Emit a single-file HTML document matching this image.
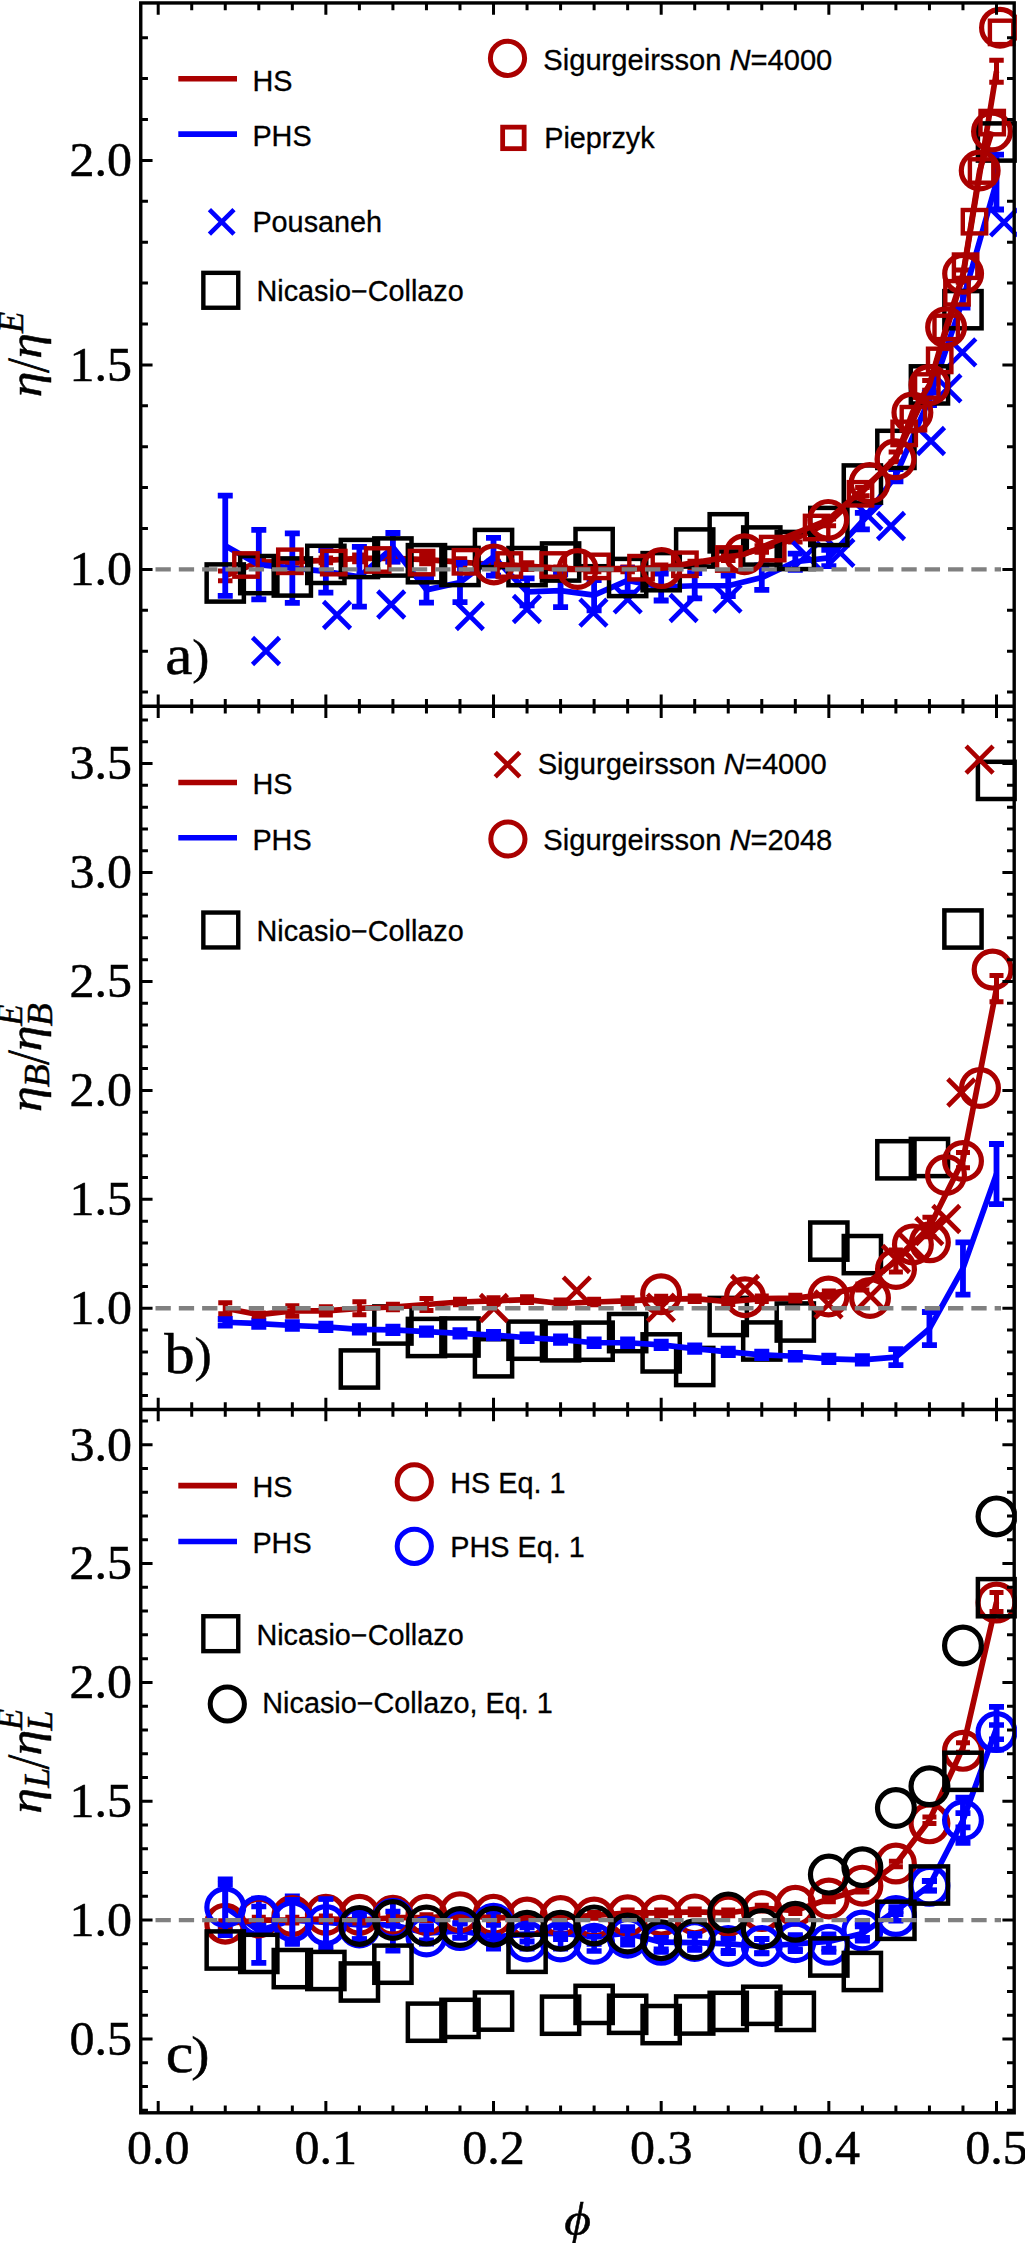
<!DOCTYPE html>
<html lang="en"><head><meta charset="utf-8"><title>Viscosity ratios vs packing fraction</title>
<style>html,body{margin:0;padding:0;background:#fff;overflow:hidden}svg{display:block}</style></head><body>
<svg width="1025" height="2243" viewBox="0 0 1025 2243">
<rect width="1025" height="2243" fill="#fff"/>
<defs>
<clipPath id="clipa"><rect x="140.75" y="2.95" width="876.15" height="703.25"/></clipPath>
<clipPath id="clipb"><rect x="140.75" y="706.2" width="876.15" height="703.3"/></clipPath>
<clipPath id="clipc"><rect x="140.75" y="1409.5" width="876.15" height="703.3"/></clipPath>
</defs>
<g clip-path="url(#clipa)">
<polyline points="225.26,575.94 258.8,562.04 292.33,561.63 325.86,560.4 359.39,558.36 392.92,558.36 426.46,559.58 459.99,562.04 493.52,564.49 527.05,566.13 560.58,569.4 594.12,569.4 627.65,569.4 661.18,567.36 694.71,564.49 728.24,557.13 761.78,548.95 795.31,538.73 828.84,522.37 862.37,491.69 895.9,456.93 929.44,385.35 962.97,276.15 996.5,71.24" fill="none" stroke="#aa0000" stroke-width="5.7" stroke-linejoin="round"/>
<path d="M225.26 571.04L225.26 580.85M218.01 571.04L232.51 571.04M218.01 580.85L232.51 580.85" fill="none" stroke="#aa0000" stroke-width="5"/>
<path d="M258.8 560.4L258.8 563.67M251.55 560.4L266.05 560.4M251.55 563.67L266.05 563.67" fill="none" stroke="#aa0000" stroke-width="5"/>
<path d="M292.33 559.99L292.33 563.26M285.08 559.99L299.58 559.99M285.08 563.26L299.58 563.26" fill="none" stroke="#aa0000" stroke-width="5"/>
<path d="M325.86 557.95L325.86 562.86M318.61 557.95L333.11 557.95M318.61 562.86L333.11 562.86" fill="none" stroke="#aa0000" stroke-width="5"/>
<path d="M359.39 555.08L359.39 561.63M352.14 555.08L366.64 555.08M352.14 561.63L366.64 561.63" fill="none" stroke="#aa0000" stroke-width="5"/>
<path d="M392.92 555.08L392.92 561.63M385.67 555.08L400.17 555.08M385.67 561.63L400.17 561.63" fill="none" stroke="#aa0000" stroke-width="5"/>
<path d="M426.46 555.49L426.46 563.67M419.21 555.49L433.71 555.49M419.21 563.67L433.71 563.67" fill="none" stroke="#aa0000" stroke-width="5"/>
<path d="M459.99 558.77L459.99 565.31M452.74 558.77L467.24 558.77M452.74 565.31L467.24 565.31" fill="none" stroke="#aa0000" stroke-width="5"/>
<path d="M493.52 561.22L493.52 567.76M486.27 561.22L500.77 561.22M486.27 567.76L500.77 567.76" fill="none" stroke="#aa0000" stroke-width="5"/>
<path d="M527.05 562.86L527.05 569.4M519.8 562.86L534.3 562.86M519.8 569.4L534.3 569.4" fill="none" stroke="#aa0000" stroke-width="5"/>
<path d="M560.58 566.95L560.58 571.85M553.33 566.95L567.83 566.95M553.33 571.85L567.83 571.85" fill="none" stroke="#aa0000" stroke-width="5"/>
<path d="M594.12 566.95L594.12 571.85M586.87 566.95L601.37 566.95M586.87 571.85L601.37 571.85" fill="none" stroke="#aa0000" stroke-width="5"/>
<path d="M627.65 566.95L627.65 571.85M620.4 566.95L634.9 566.95M620.4 571.85L634.9 571.85" fill="none" stroke="#aa0000" stroke-width="5"/>
<path d="M661.18 564.9L661.18 569.81M653.93 564.9L668.43 564.9M653.93 569.81L668.43 569.81" fill="none" stroke="#aa0000" stroke-width="5"/>
<path d="M694.71 561.22L694.71 567.76M687.46 561.22L701.96 561.22M687.46 567.76L701.96 567.76" fill="none" stroke="#aa0000" stroke-width="5"/>
<path d="M728.24 553.86L728.24 560.4M720.99 553.86L735.49 553.86M720.99 560.4L735.49 560.4" fill="none" stroke="#aa0000" stroke-width="5"/>
<path d="M761.78 545.68L761.78 552.22M754.53 545.68L769.03 545.68M754.53 552.22L769.03 552.22" fill="none" stroke="#aa0000" stroke-width="5"/>
<path d="M795.31 535.45L795.31 542M788.06 535.45L802.56 535.45M788.06 542L802.56 542" fill="none" stroke="#aa0000" stroke-width="5"/>
<path d="M828.84 519.09L828.84 525.64M821.59 519.09L836.09 519.09M821.59 525.64L836.09 525.64" fill="none" stroke="#aa0000" stroke-width="5"/>
<path d="M862.37 487.6L862.37 495.78M855.12 487.6L869.62 487.6M855.12 495.78L869.62 495.78" fill="none" stroke="#aa0000" stroke-width="5"/>
<path d="M895.9 452.02L895.9 461.83M888.65 452.02L903.15 452.02M888.65 461.83L903.15 461.83" fill="none" stroke="#aa0000" stroke-width="5"/>
<path d="M929.44 380.44L929.44 390.26M922.19 380.44L936.69 380.44M922.19 390.26L936.69 390.26" fill="none" stroke="#aa0000" stroke-width="5"/>
<path d="M962.97 270.01L962.97 282.28M955.72 270.01L970.22 270.01M955.72 282.28L970.22 282.28" fill="none" stroke="#aa0000" stroke-width="5"/>
<path d="M996.5 60.2L996.5 82.28M989.25 60.2L1003.75 60.2M989.25 82.28L1003.75 82.28" fill="none" stroke="#aa0000" stroke-width="5"/>
<polyline points="225.26,545.68 258.8,564.7 292.33,568.17 325.86,571.44 359.39,576.76 392.92,547.31 426.46,589.85 459.99,582.49 493.52,556.72 527.05,591.89 560.58,590.67 594.12,595.17 627.65,580.44 661.18,586.99 694.71,585.76 728.24,585.76 761.78,577.58 795.31,561.79 828.84,557.95 862.37,521.14 895.9,475.33 929.44,398.85 962.97,299.46 996.5,182.08" fill="none" stroke="#0000ff" stroke-width="5.7" stroke-linejoin="round"/>
<path d="M225.26 495.58L225.26 595.78M217.76 495.58L232.76 495.58M217.76 595.78L232.76 595.78" fill="none" stroke="#0000ff" stroke-width="5.8"/>
<path d="M258.8 529.93L258.8 599.46M251.3 529.93L266.3 529.93M251.3 599.46L266.3 599.46" fill="none" stroke="#0000ff" stroke-width="5.8"/>
<path d="M292.33 533.41L292.33 602.94M284.83 533.41L299.83 533.41M284.83 602.94L299.83 602.94" fill="none" stroke="#0000ff" stroke-width="5.8"/>
<path d="M325.86 550.18L325.86 592.71M318.36 550.18L333.36 550.18M318.36 592.71L333.36 592.71" fill="none" stroke="#0000ff" stroke-width="5.8"/>
<path d="M359.39 546.9L359.39 606.62M351.89 546.9L366.89 546.9M351.89 606.62L366.89 606.62" fill="none" stroke="#0000ff" stroke-width="5.8"/>
<path d="M392.92 533L392.92 561.63M385.42 533L400.42 533M385.42 561.63L400.42 561.63" fill="none" stroke="#0000ff" stroke-width="5.8"/>
<path d="M426.46 577.17L426.46 602.53M418.96 577.17L433.96 577.17M418.96 602.53L433.96 602.53" fill="none" stroke="#0000ff" stroke-width="5.8"/>
<path d="M459.99 562.86L459.99 602.12M452.49 562.86L467.49 562.86M452.49 602.12L467.49 602.12" fill="none" stroke="#0000ff" stroke-width="5.8"/>
<path d="M493.52 537.91L493.52 575.53M486.02 537.91L501.02 537.91M486.02 575.53L501.02 575.53" fill="none" stroke="#0000ff" stroke-width="5.8"/>
<path d="M527.05 578.4L527.05 605.39M519.55 578.4L534.55 578.4M519.55 605.39L534.55 605.39" fill="none" stroke="#0000ff" stroke-width="5.8"/>
<path d="M560.58 574.31L560.58 607.03M553.08 574.31L568.08 574.31M553.08 607.03L568.08 607.03" fill="none" stroke="#0000ff" stroke-width="5.8"/>
<path d="M594.12 580.03L594.12 610.3M586.62 580.03L601.62 580.03M586.62 610.3L601.62 610.3" fill="none" stroke="#0000ff" stroke-width="5.8"/>
<path d="M627.65 568.17L627.65 592.71M620.15 568.17L635.15 568.17M620.15 592.71L635.15 592.71" fill="none" stroke="#0000ff" stroke-width="5.8"/>
<path d="M661.18 573.49L661.18 600.48M653.68 573.49L668.68 573.49M653.68 600.48L668.68 600.48" fill="none" stroke="#0000ff" stroke-width="5.8"/>
<path d="M694.71 573.08L694.71 598.44M687.21 573.08L702.21 573.08M687.21 598.44L702.21 598.44" fill="none" stroke="#0000ff" stroke-width="5.8"/>
<path d="M728.24 575.53L728.24 595.99M720.74 575.53L735.74 575.53M720.74 595.99L735.74 595.99" fill="none" stroke="#0000ff" stroke-width="5.8"/>
<path d="M761.78 565.31L761.78 589.85M754.28 565.31L769.28 565.31M754.28 589.85L769.28 589.85" fill="none" stroke="#0000ff" stroke-width="5.8"/>
<path d="M795.31 553.61L795.31 569.97M787.81 553.61L802.81 553.61M787.81 569.97L802.81 569.97" fill="none" stroke="#0000ff" stroke-width="5.8"/>
<path d="M828.84 549.77L828.84 566.13M821.34 549.77L836.34 549.77M821.34 566.13L836.34 566.13" fill="none" stroke="#0000ff" stroke-width="5.8"/>
<path d="M862.37 512.96L862.37 529.32M854.87 512.96L869.87 512.96M854.87 529.32L869.87 529.32" fill="none" stroke="#0000ff" stroke-width="5.8"/>
<path d="M895.9 469.19L895.9 481.46M888.4 469.19L903.4 469.19M888.4 481.46L903.4 481.46" fill="none" stroke="#0000ff" stroke-width="5.8"/>
<path d="M929.44 392.71L929.44 404.98M921.94 392.71L936.94 392.71M921.94 404.98L936.94 404.98" fill="none" stroke="#0000ff" stroke-width="5.8"/>
<path d="M962.97 291.28L962.97 307.64M955.47 291.28L970.47 291.28M955.47 307.64L970.47 307.64" fill="none" stroke="#0000ff" stroke-width="5.8"/>
<path d="M996.5 154.67L996.5 209.48M989 154.67L1004 154.67M989 209.48L1004 209.48" fill="none" stroke="#0000ff" stroke-width="5.8"/>
<path d="M252.5 637.5L279.5 664.5M252.5 664.5L279.5 637.5" fill="none" stroke="#0000ff" stroke-width="4.6"/>
<path d="M323.5 601.5L350.5 628.5M323.5 628.5L350.5 601.5" fill="none" stroke="#0000ff" stroke-width="4.6"/>
<path d="M377.7 591L404.7 618M377.7 618L404.7 591" fill="none" stroke="#0000ff" stroke-width="4.6"/>
<path d="M456.3 602.5L483.3 629.5M456.3 629.5L483.3 602.5" fill="none" stroke="#0000ff" stroke-width="4.6"/>
<path d="M513.4 595.5L540.4 622.5M513.4 622.5L540.4 595.5" fill="none" stroke="#0000ff" stroke-width="4.6"/>
<path d="M579.9 599.1L606.9 626.1M579.9 626.1L606.9 599.1" fill="none" stroke="#0000ff" stroke-width="4.6"/>
<path d="M614.2 585.9L641.2 612.9M614.2 612.9L641.2 585.9" fill="none" stroke="#0000ff" stroke-width="4.6"/>
<path d="M670.1 594.5L697.1 621.5M670.1 621.5L697.1 594.5" fill="none" stroke="#0000ff" stroke-width="4.6"/>
<path d="M714 585.1L741 612.1M714 612.1L741 585.1" fill="none" stroke="#0000ff" stroke-width="4.6"/>
<path d="M792.7 541.9L819.7 568.9M792.7 568.9L819.7 541.9" fill="none" stroke="#0000ff" stroke-width="4.6"/>
<path d="M826.9 539.4L853.9 566.4M826.9 566.4L853.9 539.4" fill="none" stroke="#0000ff" stroke-width="4.6"/>
<path d="M854.8 502.5L881.8 529.5M854.8 529.5L881.8 502.5" fill="none" stroke="#0000ff" stroke-width="4.6"/>
<path d="M877.5 512.5L904.5 539.5M877.5 539.5L904.5 512.5" fill="none" stroke="#0000ff" stroke-width="4.6"/>
<path d="M917.5 427.5L944.5 454.5M917.5 454.5L944.5 427.5" fill="none" stroke="#0000ff" stroke-width="4.6"/>
<path d="M933.9 374.9L960.9 401.9M933.9 401.9L960.9 374.9" fill="none" stroke="#0000ff" stroke-width="4.6"/>
<path d="M948.8 338.9L975.8 365.9M948.8 365.9L975.8 338.9" fill="none" stroke="#0000ff" stroke-width="4.6"/>
<path d="M990.5 208.9L1017.5 235.9M990.5 235.9L1017.5 208.9" fill="none" stroke="#0000ff" stroke-width="4.6"/>
<rect x="206.66" y="564.4" width="37.2" height="37.2" fill="none" stroke="#000000" stroke-width="4.5"/>
<rect x="240.2" y="556" width="37.2" height="37.2" fill="none" stroke="#000000" stroke-width="4.5"/>
<rect x="273.73" y="558.4" width="37.2" height="37.2" fill="none" stroke="#000000" stroke-width="4.5"/>
<rect x="307.26" y="545.8" width="37.2" height="37.2" fill="none" stroke="#000000" stroke-width="4.5"/>
<rect x="340.79" y="539.9" width="37.2" height="37.2" fill="none" stroke="#000000" stroke-width="4.5"/>
<rect x="374.32" y="538.4" width="37.2" height="37.2" fill="none" stroke="#000000" stroke-width="4.5"/>
<rect x="407.86" y="545.1" width="37.2" height="37.2" fill="none" stroke="#000000" stroke-width="4.5"/>
<rect x="441.39" y="547.9" width="37.2" height="37.2" fill="none" stroke="#000000" stroke-width="4.5"/>
<rect x="474.92" y="529.9" width="37.2" height="37.2" fill="none" stroke="#000000" stroke-width="4.5"/>
<rect x="508.45" y="548" width="37.2" height="37.2" fill="none" stroke="#000000" stroke-width="4.5"/>
<rect x="541.98" y="543.4" width="37.2" height="37.2" fill="none" stroke="#000000" stroke-width="4.5"/>
<rect x="575.52" y="529" width="37.2" height="37.2" fill="none" stroke="#000000" stroke-width="4.5"/>
<rect x="609.05" y="558.9" width="37.2" height="37.2" fill="none" stroke="#000000" stroke-width="4.5"/>
<rect x="642.58" y="553.1" width="37.2" height="37.2" fill="none" stroke="#000000" stroke-width="4.5"/>
<rect x="676.11" y="529.4" width="37.2" height="37.2" fill="none" stroke="#000000" stroke-width="4.5"/>
<rect x="709.64" y="514.2" width="37.2" height="37.2" fill="none" stroke="#000000" stroke-width="4.5"/>
<rect x="743.18" y="527.4" width="37.2" height="37.2" fill="none" stroke="#000000" stroke-width="4.5"/>
<rect x="776.71" y="531.9" width="37.2" height="37.2" fill="none" stroke="#000000" stroke-width="4.5"/>
<rect x="810.24" y="507.9" width="37.2" height="37.2" fill="none" stroke="#000000" stroke-width="4.5"/>
<rect x="843.77" y="465.4" width="37.2" height="37.2" fill="none" stroke="#000000" stroke-width="4.5"/>
<rect x="877.3" y="430.8" width="37.2" height="37.2" fill="none" stroke="#000000" stroke-width="4.5"/>
<rect x="910.84" y="366.3" width="37.2" height="37.2" fill="none" stroke="#000000" stroke-width="4.5"/>
<rect x="944.37" y="291.1" width="37.2" height="37.2" fill="none" stroke="#000000" stroke-width="4.5"/>
<rect x="977.9" y="123.4" width="37.2" height="37.2" fill="none" stroke="#000000" stroke-width="4.5"/>
<rect x="234.29" y="553.3" width="23.4" height="23.4" fill="none" stroke="#aa0000" stroke-width="4.4"/>
<rect x="278.18" y="549.6" width="23.4" height="23.4" fill="none" stroke="#aa0000" stroke-width="4.4"/>
<rect x="322.07" y="550.9" width="23.4" height="23.4" fill="none" stroke="#aa0000" stroke-width="4.4"/>
<rect x="365.97" y="548.3" width="23.4" height="23.4" fill="none" stroke="#aa0000" stroke-width="4.4"/>
<rect x="409.86" y="550.9" width="23.4" height="23.4" fill="none" stroke="#aa0000" stroke-width="4.4"/>
<rect x="453.75" y="550.1" width="23.4" height="23.4" fill="none" stroke="#aa0000" stroke-width="4.4"/>
<rect x="497.65" y="553.3" width="23.4" height="23.4" fill="none" stroke="#aa0000" stroke-width="4.4"/>
<rect x="541.54" y="553.3" width="23.4" height="23.4" fill="none" stroke="#aa0000" stroke-width="4.4"/>
<rect x="585.43" y="554.7" width="23.4" height="23.4" fill="none" stroke="#aa0000" stroke-width="4.4"/>
<rect x="629.33" y="556" width="23.4" height="23.4" fill="none" stroke="#aa0000" stroke-width="4.4"/>
<rect x="673.22" y="552.6" width="23.4" height="23.4" fill="none" stroke="#aa0000" stroke-width="4.4"/>
<rect x="717.11" y="547.3" width="23.4" height="23.4" fill="none" stroke="#aa0000" stroke-width="4.4"/>
<rect x="761.01" y="536.9" width="23.4" height="23.4" fill="none" stroke="#aa0000" stroke-width="4.4"/>
<rect x="804.9" y="515.8" width="23.4" height="23.4" fill="none" stroke="#aa0000" stroke-width="4.4"/>
<rect x="848.79" y="482.1" width="23.4" height="23.4" fill="none" stroke="#aa0000" stroke-width="4.4"/>
<rect x="892.5" y="421.7" width="23.4" height="23.4" fill="none" stroke="#aa0000" stroke-width="4.4"/>
<rect x="901.7" y="407" width="23.4" height="23.4" fill="none" stroke="#aa0000" stroke-width="4.4"/>
<rect x="915.1" y="374.3" width="23.4" height="23.4" fill="none" stroke="#aa0000" stroke-width="4.4"/>
<rect x="928" y="348.7" width="23.4" height="23.4" fill="none" stroke="#aa0000" stroke-width="4.4"/>
<rect x="934.5" y="315.7" width="23.4" height="23.4" fill="none" stroke="#aa0000" stroke-width="4.4"/>
<rect x="945.3" y="281.1" width="23.4" height="23.4" fill="none" stroke="#aa0000" stroke-width="4.4"/>
<rect x="953.9" y="254.5" width="23.4" height="23.4" fill="none" stroke="#aa0000" stroke-width="4.4"/>
<rect x="962.8" y="210" width="23.4" height="23.4" fill="none" stroke="#aa0000" stroke-width="4.4"/>
<rect x="969.9" y="159.3" width="23.4" height="23.4" fill="none" stroke="#aa0000" stroke-width="4.4"/>
<rect x="980.5" y="110.9" width="23.4" height="23.4" fill="none" stroke="#aa0000" stroke-width="4.4"/>
<rect x="989.9" y="20.7" width="23.4" height="23.4" fill="none" stroke="#aa0000" stroke-width="4.4"/>
<polyline points="493.9,564.4 577.6,569 661.6,568.1 744.5,554.2 828.2,519.9 869.6,483.1 895.5,459.3 912.4,412.6 929.4,385 946.1,327.2 963.1,273.8 979.7,170.5 992,131.5" fill="none" stroke="#aa0000" stroke-width="5.7" stroke-linejoin="round"/>
<circle cx="493.9" cy="564.4" r="18.4" fill="none" stroke="#aa0000" stroke-width="5.2"/>
<circle cx="577.6" cy="569" r="18.4" fill="none" stroke="#aa0000" stroke-width="5.2"/>
<circle cx="661.6" cy="568.1" r="18.4" fill="none" stroke="#aa0000" stroke-width="5.2"/>
<circle cx="744.5" cy="554.2" r="18.4" fill="none" stroke="#aa0000" stroke-width="5.2"/>
<circle cx="828.2" cy="519.9" r="18.4" fill="none" stroke="#aa0000" stroke-width="5.2"/>
<circle cx="869.6" cy="483.1" r="18.4" fill="none" stroke="#aa0000" stroke-width="5.2"/>
<circle cx="895.5" cy="459.3" r="18.4" fill="none" stroke="#aa0000" stroke-width="5.2"/>
<circle cx="912.4" cy="412.6" r="18.4" fill="none" stroke="#aa0000" stroke-width="5.2"/>
<circle cx="929.4" cy="385" r="18.4" fill="none" stroke="#aa0000" stroke-width="5.2"/>
<circle cx="946.1" cy="327.2" r="18.4" fill="none" stroke="#aa0000" stroke-width="5.2"/>
<circle cx="963.1" cy="273.8" r="18.4" fill="none" stroke="#aa0000" stroke-width="5.2"/>
<circle cx="979.7" cy="170.5" r="18.4" fill="none" stroke="#aa0000" stroke-width="5.2"/>
<circle cx="992" cy="131.5" r="18.4" fill="none" stroke="#aa0000" stroke-width="5.2"/>
<circle cx="1000" cy="27.7" r="18.4" fill="none" stroke="#aa0000" stroke-width="5.2"/>
</g>
<g clip-path="url(#clipb)">
<rect x="340.79" y="1350.4" width="37.2" height="37.2" fill="none" stroke="#000000" stroke-width="4.5"/>
<rect x="374.32" y="1306.4" width="37.2" height="37.2" fill="none" stroke="#000000" stroke-width="4.5"/>
<rect x="407.86" y="1318.9" width="37.2" height="37.2" fill="none" stroke="#000000" stroke-width="4.5"/>
<rect x="441.39" y="1318.4" width="37.2" height="37.2" fill="none" stroke="#000000" stroke-width="4.5"/>
<rect x="474.92" y="1339.2" width="37.2" height="37.2" fill="none" stroke="#000000" stroke-width="4.5"/>
<rect x="508.45" y="1321.6" width="37.2" height="37.2" fill="none" stroke="#000000" stroke-width="4.5"/>
<rect x="541.98" y="1323.2" width="37.2" height="37.2" fill="none" stroke="#000000" stroke-width="4.5"/>
<rect x="575.52" y="1322.6" width="37.2" height="37.2" fill="none" stroke="#000000" stroke-width="4.5"/>
<rect x="609.05" y="1314" width="37.2" height="37.2" fill="none" stroke="#000000" stroke-width="4.5"/>
<rect x="642.58" y="1334.3" width="37.2" height="37.2" fill="none" stroke="#000000" stroke-width="4.5"/>
<rect x="676.11" y="1347.9" width="37.2" height="37.2" fill="none" stroke="#000000" stroke-width="4.5"/>
<rect x="709.64" y="1297.9" width="37.2" height="37.2" fill="none" stroke="#000000" stroke-width="4.5"/>
<rect x="743.18" y="1322.4" width="37.2" height="37.2" fill="none" stroke="#000000" stroke-width="4.5"/>
<rect x="776.71" y="1303.4" width="37.2" height="37.2" fill="none" stroke="#000000" stroke-width="4.5"/>
<rect x="810.24" y="1222.5" width="37.2" height="37.2" fill="none" stroke="#000000" stroke-width="4.5"/>
<rect x="843.77" y="1236" width="37.2" height="37.2" fill="none" stroke="#000000" stroke-width="4.5"/>
<rect x="877.3" y="1141.2" width="37.2" height="37.2" fill="none" stroke="#000000" stroke-width="4.5"/>
<rect x="910.84" y="1138.9" width="37.2" height="37.2" fill="none" stroke="#000000" stroke-width="4.5"/>
<rect x="944.37" y="910.4" width="37.2" height="37.2" fill="none" stroke="#000000" stroke-width="4.5"/>
<rect x="977.9" y="761.8" width="37.2" height="37.2" fill="none" stroke="#000000" stroke-width="4.5"/>
<polyline points="225.26,1322.25 258.8,1323.55 292.33,1325.51 325.86,1326.82 359.39,1329.33 392.92,1329.87 426.46,1331.62 459.99,1333.36 493.52,1335.1 527.05,1337.72 560.58,1339.68 594.12,1342.73 627.65,1342.73 661.18,1344.91 694.71,1348.61 728.24,1351.88 761.78,1354.93 795.31,1356.24 828.84,1358.85 862.37,1359.94 895.9,1357.11 929.44,1328.56 962.97,1268.42 996.5,1174.07" fill="none" stroke="#0000ff" stroke-width="5.7" stroke-linejoin="round"/>
<path d="M225.26 1318.98L225.26 1325.51M217.76 1318.98L232.76 1318.98M217.76 1325.51L232.76 1325.51" fill="none" stroke="#0000ff" stroke-width="5.8"/>
<path d="M258.8 1320.28L258.8 1326.82M251.3 1320.28L266.3 1320.28M251.3 1326.82L266.3 1326.82" fill="none" stroke="#0000ff" stroke-width="5.8"/>
<path d="M292.33 1322.25L292.33 1328.78M284.83 1322.25L299.83 1322.25M284.83 1328.78L299.83 1328.78" fill="none" stroke="#0000ff" stroke-width="5.8"/>
<path d="M325.86 1323.55L325.86 1330.09M318.36 1323.55L333.36 1323.55M318.36 1330.09L333.36 1330.09" fill="none" stroke="#0000ff" stroke-width="5.8"/>
<path d="M359.39 1326.06L359.39 1332.6M351.89 1326.06L366.89 1326.06M351.89 1332.6L366.89 1332.6" fill="none" stroke="#0000ff" stroke-width="5.8"/>
<path d="M392.92 1326.6L392.92 1333.14M385.42 1326.6L400.42 1326.6M385.42 1333.14L400.42 1333.14" fill="none" stroke="#0000ff" stroke-width="5.8"/>
<path d="M426.46 1328.35L426.46 1334.88M418.96 1328.35L433.96 1328.35M418.96 1334.88L433.96 1334.88" fill="none" stroke="#0000ff" stroke-width="5.8"/>
<path d="M459.99 1330.09L459.99 1336.63M452.49 1330.09L467.49 1330.09M452.49 1336.63L467.49 1336.63" fill="none" stroke="#0000ff" stroke-width="5.8"/>
<path d="M493.52 1331.83L493.52 1338.37M486.02 1331.83L501.02 1331.83M486.02 1338.37L501.02 1338.37" fill="none" stroke="#0000ff" stroke-width="5.8"/>
<path d="M527.05 1334.45L527.05 1340.98M519.55 1334.45L534.55 1334.45M519.55 1340.98L534.55 1340.98" fill="none" stroke="#0000ff" stroke-width="5.8"/>
<path d="M560.58 1336.41L560.58 1342.95M553.08 1336.41L568.08 1336.41M553.08 1342.95L568.08 1342.95" fill="none" stroke="#0000ff" stroke-width="5.8"/>
<path d="M594.12 1339.46L594.12 1346M586.62 1339.46L601.62 1339.46M586.62 1346L601.62 1346" fill="none" stroke="#0000ff" stroke-width="5.8"/>
<path d="M627.65 1339.46L627.65 1346M620.15 1339.46L635.15 1339.46M620.15 1346L635.15 1346" fill="none" stroke="#0000ff" stroke-width="5.8"/>
<path d="M661.18 1341.64L661.18 1348.18M653.68 1341.64L668.68 1341.64M653.68 1348.18L668.68 1348.18" fill="none" stroke="#0000ff" stroke-width="5.8"/>
<path d="M694.71 1345.34L694.71 1351.88M687.21 1345.34L702.21 1345.34M687.21 1351.88L702.21 1351.88" fill="none" stroke="#0000ff" stroke-width="5.8"/>
<path d="M728.24 1348.61L728.24 1355.15M720.74 1348.61L735.74 1348.61M720.74 1355.15L735.74 1355.15" fill="none" stroke="#0000ff" stroke-width="5.8"/>
<path d="M761.78 1351.66L761.78 1358.2M754.28 1351.66L769.28 1351.66M754.28 1358.2L769.28 1358.2" fill="none" stroke="#0000ff" stroke-width="5.8"/>
<path d="M795.31 1352.97L795.31 1359.51M787.81 1352.97L802.81 1352.97M787.81 1359.51L802.81 1359.51" fill="none" stroke="#0000ff" stroke-width="5.8"/>
<path d="M828.84 1355.58L828.84 1362.12M821.34 1355.58L836.34 1355.58M821.34 1362.12L836.34 1362.12" fill="none" stroke="#0000ff" stroke-width="5.8"/>
<path d="M862.37 1356.24L862.37 1363.65M854.87 1356.24L869.87 1356.24M854.87 1363.65L869.87 1363.65" fill="none" stroke="#0000ff" stroke-width="5.8"/>
<path d="M895.9 1349.05L895.9 1365.17M888.4 1349.05L903.4 1349.05M888.4 1365.17L903.4 1365.17" fill="none" stroke="#0000ff" stroke-width="5.8"/>
<path d="M929.44 1312L929.44 1345.13M921.94 1312L936.94 1312M921.94 1345.13L936.94 1345.13" fill="none" stroke="#0000ff" stroke-width="5.8"/>
<path d="M962.97 1242.28L962.97 1294.57M955.47 1242.28L970.47 1242.28M955.47 1294.57L970.47 1294.57" fill="none" stroke="#0000ff" stroke-width="5.8"/>
<path d="M996.5 1144L996.5 1204.14M989 1144L1004 1144M989 1204.14L1004 1204.14" fill="none" stroke="#0000ff" stroke-width="5.8"/>
<polyline points="225.26,1308.3 258.8,1314.62 292.33,1310.91 325.86,1310.91 359.39,1308.3 392.92,1306.99 426.46,1304.49 459.99,1301.98 493.52,1300.89 527.05,1299.58 560.58,1303.51 594.12,1301.98 627.65,1300.89 661.18,1299.15 694.71,1298.71 728.24,1301.76 761.78,1298.71 795.31,1298.06 828.84,1294.14 862.37,1286.95 895.9,1261.02 929.44,1227.02 962.97,1160.13 996.5,988.64" fill="none" stroke="#aa0000" stroke-width="5.7" stroke-linejoin="round"/>
<path d="M225.26 1302.85L225.26 1313.75M218.26 1302.85L232.26 1302.85M218.26 1313.75L232.26 1313.75" fill="none" stroke="#aa0000" stroke-width="5"/>
<path d="M258.8 1312.88L258.8 1316.36M251.8 1312.88L265.8 1312.88M251.8 1316.36L265.8 1316.36" fill="none" stroke="#aa0000" stroke-width="5"/>
<path d="M292.33 1305.69L292.33 1316.14M285.33 1305.69L299.33 1305.69M285.33 1316.14L299.33 1316.14" fill="none" stroke="#aa0000" stroke-width="5"/>
<path d="M325.86 1306.86L325.86 1314.97M318.86 1306.86L332.86 1306.86M318.86 1314.97L332.86 1314.97" fill="none" stroke="#aa0000" stroke-width="5"/>
<path d="M359.39 1301.76L359.39 1314.84M352.39 1301.76L366.39 1301.76M352.39 1314.84L366.39 1314.84" fill="none" stroke="#aa0000" stroke-width="5"/>
<path d="M392.92 1304.16L392.92 1309.83M385.92 1304.16L399.92 1304.16M385.92 1309.83L399.92 1309.83" fill="none" stroke="#aa0000" stroke-width="5"/>
<path d="M426.46 1298.39L426.46 1310.59M419.46 1298.39L433.46 1298.39M419.46 1310.59L433.46 1310.59" fill="none" stroke="#aa0000" stroke-width="5"/>
<path d="M459.99 1299.15L459.99 1304.81M452.99 1299.15L466.99 1299.15M452.99 1304.81L466.99 1304.81" fill="none" stroke="#aa0000" stroke-width="5"/>
<path d="M493.52 1297.84L493.52 1303.94M486.52 1297.84L500.52 1297.84M486.52 1303.94L500.52 1303.94" fill="none" stroke="#aa0000" stroke-width="5"/>
<path d="M527.05 1296.75L527.05 1302.42M520.05 1296.75L534.05 1296.75M520.05 1302.42L534.05 1302.42" fill="none" stroke="#aa0000" stroke-width="5"/>
<path d="M560.58 1300.02L560.58 1306.99M553.58 1300.02L567.58 1300.02M553.58 1306.99L567.58 1306.99" fill="none" stroke="#aa0000" stroke-width="5"/>
<path d="M594.12 1299.15L594.12 1304.81M587.12 1299.15L601.12 1299.15M587.12 1304.81L601.12 1304.81" fill="none" stroke="#aa0000" stroke-width="5"/>
<path d="M627.65 1297.84L627.65 1303.94M620.65 1297.84L634.65 1297.84M620.65 1303.94L634.65 1303.94" fill="none" stroke="#aa0000" stroke-width="5"/>
<path d="M661.18 1296.32L661.18 1301.98M654.18 1296.32L668.18 1296.32M654.18 1301.98L668.18 1301.98" fill="none" stroke="#aa0000" stroke-width="5"/>
<path d="M694.71 1295.88L694.71 1301.55M687.71 1295.88L701.71 1295.88M687.71 1301.55L701.71 1301.55" fill="none" stroke="#aa0000" stroke-width="5"/>
<path d="M728.24 1298.93L728.24 1304.6M721.24 1298.93L735.24 1298.93M721.24 1304.6L735.24 1304.6" fill="none" stroke="#aa0000" stroke-width="5"/>
<path d="M761.78 1295.88L761.78 1301.55M754.78 1295.88L768.78 1295.88M754.78 1301.55L768.78 1301.55" fill="none" stroke="#aa0000" stroke-width="5"/>
<path d="M795.31 1295.23L795.31 1300.89M788.31 1295.23L802.31 1295.23M788.31 1300.89L802.31 1300.89" fill="none" stroke="#aa0000" stroke-width="5"/>
<path d="M828.84 1291.09L828.84 1297.19M821.84 1291.09L835.84 1291.09M821.84 1297.19L835.84 1297.19" fill="none" stroke="#aa0000" stroke-width="5"/>
<path d="M862.37 1283.9L862.37 1290M855.37 1283.9L869.37 1283.9M855.37 1290L869.37 1290" fill="none" stroke="#aa0000" stroke-width="5"/>
<path d="M895.9 1250.12L895.9 1271.91M888.9 1250.12L902.9 1250.12M888.9 1271.91L902.9 1271.91" fill="none" stroke="#aa0000" stroke-width="5"/>
<path d="M929.44 1217.22L929.44 1236.83M922.44 1217.22L936.44 1217.22M922.44 1236.83L936.44 1236.83" fill="none" stroke="#aa0000" stroke-width="5"/>
<path d="M962.97 1152.5L962.97 1167.75M955.97 1152.5L969.97 1152.5M955.97 1167.75L969.97 1167.75" fill="none" stroke="#aa0000" stroke-width="5"/>
<path d="M996.5 975.57L996.5 1001.71M989.5 975.57L1003.5 975.57M989.5 1001.71L1003.5 1001.71" fill="none" stroke="#aa0000" stroke-width="5"/>
<path d="M480.4 1294.5L507.4 1321.5M480.4 1321.5L507.4 1294.5" fill="none" stroke="#aa0000" stroke-width="4.6"/>
<path d="M563.3 1277.2L590.3 1304.2M563.3 1304.2L590.3 1277.2" fill="none" stroke="#aa0000" stroke-width="4.6"/>
<path d="M647.4 1294.1L674.4 1321.1M647.4 1321.1L674.4 1294.1" fill="none" stroke="#aa0000" stroke-width="4.6"/>
<path d="M731.5 1275.5L758.5 1302.5M731.5 1302.5L758.5 1275.5" fill="none" stroke="#aa0000" stroke-width="4.6"/>
<path d="M815 1290.8L842 1317.8M815 1317.8L842 1290.8" fill="none" stroke="#aa0000" stroke-width="4.6"/>
<path d="M857 1282.5L884 1309.5M857 1309.5L884 1282.5" fill="none" stroke="#aa0000" stroke-width="4.6"/>
<path d="M882.5 1245.5L909.5 1272.5M882.5 1272.5L909.5 1245.5" fill="none" stroke="#aa0000" stroke-width="4.6"/>
<path d="M898 1232.5L925 1259.5M898 1259.5L925 1232.5" fill="none" stroke="#aa0000" stroke-width="4.6"/>
<path d="M915.8 1217.7L942.8 1244.7M915.8 1244.7L942.8 1217.7" fill="none" stroke="#aa0000" stroke-width="4.6"/>
<path d="M932.8 1205.5L959.8 1232.5M932.8 1232.5L959.8 1205.5" fill="none" stroke="#aa0000" stroke-width="4.6"/>
<path d="M947.8 1079L974.8 1106M947.8 1106L974.8 1079" fill="none" stroke="#aa0000" stroke-width="4.6"/>
<path d="M966.1 746.2L993.1 773.2M966.1 773.2L993.1 746.2" fill="none" stroke="#aa0000" stroke-width="4.6"/>
<circle cx="661.1" cy="1294.2" r="18.4" fill="none" stroke="#aa0000" stroke-width="5.2"/>
<circle cx="745" cy="1297.2" r="18.4" fill="none" stroke="#aa0000" stroke-width="5.2"/>
<circle cx="828.5" cy="1296.5" r="18.4" fill="none" stroke="#aa0000" stroke-width="5.2"/>
<circle cx="870" cy="1298" r="18.4" fill="none" stroke="#aa0000" stroke-width="5.2"/>
<circle cx="896" cy="1269" r="18.4" fill="none" stroke="#aa0000" stroke-width="5.2"/>
<circle cx="912.9" cy="1244.4" r="18.4" fill="none" stroke="#aa0000" stroke-width="5.2"/>
<circle cx="929.9" cy="1242.3" r="18.4" fill="none" stroke="#aa0000" stroke-width="5.2"/>
<circle cx="946" cy="1175" r="18.4" fill="none" stroke="#aa0000" stroke-width="5.2"/>
<circle cx="963" cy="1161" r="18.4" fill="none" stroke="#aa0000" stroke-width="5.2"/>
<circle cx="980" cy="1088" r="18.4" fill="none" stroke="#aa0000" stroke-width="5.2"/>
<circle cx="992.6" cy="969.6" r="18.4" fill="none" stroke="#aa0000" stroke-width="5.2"/>
</g>
<g clip-path="url(#clipc)">
<polyline points="225.26,1907.03 258.8,1930.8 292.33,1920.1 325.86,1922.48 359.39,1924.85 392.92,1924.85 426.46,1933.17 459.99,1930.8 493.52,1936.74 527.05,1934.36 560.58,1933.17 594.12,1936.74 627.65,1933.17 661.18,1942.21 694.71,1942.68 728.24,1943.87 761.78,1946.25 795.31,1943.87 828.84,1941.49 862.37,1933.41 895.9,1910.59 929.44,1885.63 962.97,1820.27 996.5,1728.28" fill="none" stroke="#0000ff" stroke-width="5.7" stroke-linejoin="round"/>
<path d="M225.26 1884.68L225.26 1929.37M217.76 1884.68L232.76 1884.68M217.76 1929.37L232.76 1929.37" fill="none" stroke="#0000ff" stroke-width="5.8"/>
<path d="M258.8 1898.71L258.8 1962.89M251.3 1898.71L266.3 1898.71M251.3 1962.89L266.3 1962.89" fill="none" stroke="#0000ff" stroke-width="5.8"/>
<path d="M292.33 1896.33L292.33 1943.87M284.83 1896.33L299.83 1896.33M284.83 1943.87L299.83 1943.87" fill="none" stroke="#0000ff" stroke-width="5.8"/>
<path d="M325.86 1898.71L325.86 1946.25M318.36 1898.71L333.36 1898.71M318.36 1946.25L333.36 1946.25" fill="none" stroke="#0000ff" stroke-width="5.8"/>
<path d="M359.39 1910.59L359.39 1939.12M351.89 1910.59L366.89 1910.59M351.89 1939.12L366.89 1939.12" fill="none" stroke="#0000ff" stroke-width="5.8"/>
<path d="M392.92 1899.18L392.92 1950.53M385.42 1899.18L400.42 1899.18M385.42 1950.53L400.42 1950.53" fill="none" stroke="#0000ff" stroke-width="5.8"/>
<path d="M426.46 1926.04L426.46 1940.3M418.96 1926.04L433.96 1926.04M418.96 1940.3L433.96 1940.3" fill="none" stroke="#0000ff" stroke-width="5.8"/>
<path d="M459.99 1923.67L459.99 1937.93M452.49 1923.67L467.49 1923.67M452.49 1937.93L467.49 1937.93" fill="none" stroke="#0000ff" stroke-width="5.8"/>
<path d="M493.52 1924.85L493.52 1948.62M486.02 1924.85L501.02 1924.85M486.02 1948.62L501.02 1948.62" fill="none" stroke="#0000ff" stroke-width="5.8"/>
<path d="M527.05 1927.23L527.05 1941.49M519.55 1927.23L534.55 1927.23M519.55 1941.49L534.55 1941.49" fill="none" stroke="#0000ff" stroke-width="5.8"/>
<path d="M560.58 1927.23L560.58 1939.12M553.08 1927.23L568.08 1927.23M553.08 1939.12L568.08 1939.12" fill="none" stroke="#0000ff" stroke-width="5.8"/>
<path d="M594.12 1929.61L594.12 1943.87M586.62 1929.61L601.62 1929.61M586.62 1943.87L601.62 1943.87" fill="none" stroke="#0000ff" stroke-width="5.8"/>
<path d="M627.65 1927.23L627.65 1939.12M620.15 1927.23L635.15 1927.23M620.15 1939.12L635.15 1939.12" fill="none" stroke="#0000ff" stroke-width="5.8"/>
<path d="M661.18 1935.08L661.18 1949.34M653.68 1935.08L668.68 1935.08M653.68 1949.34L668.68 1949.34" fill="none" stroke="#0000ff" stroke-width="5.8"/>
<path d="M694.71 1935.55L694.71 1949.81M687.21 1935.55L702.21 1935.55M687.21 1949.81L702.21 1949.81" fill="none" stroke="#0000ff" stroke-width="5.8"/>
<path d="M728.24 1936.74L728.24 1951M720.74 1936.74L735.74 1936.74M720.74 1951L735.74 1951" fill="none" stroke="#0000ff" stroke-width="5.8"/>
<path d="M761.78 1939.12L761.78 1953.38M754.28 1939.12L769.28 1939.12M754.28 1953.38L769.28 1953.38" fill="none" stroke="#0000ff" stroke-width="5.8"/>
<path d="M795.31 1936.74L795.31 1951M787.81 1936.74L802.81 1936.74M787.81 1951L802.81 1951" fill="none" stroke="#0000ff" stroke-width="5.8"/>
<path d="M828.84 1934.36L828.84 1948.62M821.34 1934.36L836.34 1934.36M821.34 1948.62L836.34 1948.62" fill="none" stroke="#0000ff" stroke-width="5.8"/>
<path d="M862.37 1926.28L862.37 1940.54M854.87 1926.28L869.87 1926.28M854.87 1940.54L869.87 1940.54" fill="none" stroke="#0000ff" stroke-width="5.8"/>
<path d="M895.9 1907.03L895.9 1914.16M888.4 1907.03L903.4 1907.03M888.4 1914.16L903.4 1914.16" fill="none" stroke="#0000ff" stroke-width="5.8"/>
<path d="M929.44 1880.88L929.44 1890.39M921.94 1880.88L936.94 1880.88M921.94 1890.39L936.94 1890.39" fill="none" stroke="#0000ff" stroke-width="5.8"/>
<path d="M962.97 1797.68L962.97 1842.85M955.47 1797.68L970.47 1797.68M955.47 1842.85L970.47 1842.85" fill="none" stroke="#0000ff" stroke-width="5.8"/>
<path d="M996.5 1706.88L996.5 1749.67M989 1706.88L1004 1706.88M989 1749.67L1004 1749.67" fill="none" stroke="#0000ff" stroke-width="5.8"/>
<polyline points="225.26,1923.67 258.8,1920.1 292.33,1920.1 325.86,1918.91 359.39,1920.1 392.92,1917.72 426.46,1917.72 459.99,1915.35 493.52,1917.72 527.05,1917.72 560.58,1917.72 594.12,1915.35 627.65,1912.97 661.18,1912.97 694.71,1911.78 728.24,1912.97 761.78,1908.21 795.31,1910.59 828.84,1898.94 862.37,1889.2 895.9,1864 929.44,1820.27 962.97,1747.53 996.5,1602.06" fill="none" stroke="#aa0000" stroke-width="5.7" stroke-linejoin="round"/>
<path d="M225.26 1920.81L225.26 1926.52M218.26 1920.81L232.26 1920.81M218.26 1926.52L232.26 1926.52" fill="none" stroke="#aa0000" stroke-width="5"/>
<path d="M258.8 1917.25L258.8 1922.95M251.8 1917.25L265.8 1917.25M251.8 1922.95L265.8 1922.95" fill="none" stroke="#aa0000" stroke-width="5"/>
<path d="M292.33 1917.25L292.33 1922.95M285.33 1917.25L299.33 1917.25M285.33 1922.95L299.33 1922.95" fill="none" stroke="#aa0000" stroke-width="5"/>
<path d="M325.86 1916.06L325.86 1921.76M318.86 1916.06L332.86 1916.06M318.86 1921.76L332.86 1921.76" fill="none" stroke="#aa0000" stroke-width="5"/>
<path d="M359.39 1917.25L359.39 1922.95M352.39 1917.25L366.39 1917.25M352.39 1922.95L366.39 1922.95" fill="none" stroke="#aa0000" stroke-width="5"/>
<path d="M392.92 1914.87L392.92 1920.58M385.92 1914.87L399.92 1914.87M385.92 1920.58L399.92 1920.58" fill="none" stroke="#aa0000" stroke-width="5"/>
<path d="M426.46 1914.87L426.46 1920.58M419.46 1914.87L433.46 1914.87M419.46 1920.58L433.46 1920.58" fill="none" stroke="#aa0000" stroke-width="5"/>
<path d="M459.99 1912.49L459.99 1918.2M452.99 1912.49L466.99 1912.49M452.99 1918.2L466.99 1918.2" fill="none" stroke="#aa0000" stroke-width="5"/>
<path d="M493.52 1914.87L493.52 1920.58M486.52 1914.87L500.52 1914.87M486.52 1920.58L500.52 1920.58" fill="none" stroke="#aa0000" stroke-width="5"/>
<path d="M527.05 1914.87L527.05 1920.58M520.05 1914.87L534.05 1914.87M520.05 1920.58L534.05 1920.58" fill="none" stroke="#aa0000" stroke-width="5"/>
<path d="M560.58 1914.87L560.58 1920.58M553.58 1914.87L567.58 1914.87M553.58 1920.58L567.58 1920.58" fill="none" stroke="#aa0000" stroke-width="5"/>
<path d="M594.12 1912.49L594.12 1918.2M587.12 1912.49L601.12 1912.49M587.12 1918.2L601.12 1918.2" fill="none" stroke="#aa0000" stroke-width="5"/>
<path d="M627.65 1910.12L627.65 1915.82M620.65 1910.12L634.65 1910.12M620.65 1915.82L634.65 1915.82" fill="none" stroke="#aa0000" stroke-width="5"/>
<path d="M661.18 1910.12L661.18 1915.82M654.18 1910.12L668.18 1910.12M654.18 1915.82L668.18 1915.82" fill="none" stroke="#aa0000" stroke-width="5"/>
<path d="M694.71 1908.93L694.71 1914.63M687.71 1908.93L701.71 1908.93M687.71 1914.63L701.71 1914.63" fill="none" stroke="#aa0000" stroke-width="5"/>
<path d="M728.24 1910.12L728.24 1915.82M721.24 1910.12L735.24 1910.12M721.24 1915.82L735.24 1915.82" fill="none" stroke="#aa0000" stroke-width="5"/>
<path d="M761.78 1905.36L761.78 1911.07M754.78 1905.36L768.78 1905.36M754.78 1911.07L768.78 1911.07" fill="none" stroke="#aa0000" stroke-width="5"/>
<path d="M795.31 1907.74L795.31 1913.44M788.31 1907.74L802.31 1907.74M788.31 1913.44L802.31 1913.44" fill="none" stroke="#aa0000" stroke-width="5"/>
<path d="M828.84 1896.09L828.84 1901.8M821.84 1896.09L835.84 1896.09M821.84 1901.8L835.84 1901.8" fill="none" stroke="#aa0000" stroke-width="5"/>
<path d="M862.37 1886.35L862.37 1892.05M855.37 1886.35L869.37 1886.35M855.37 1892.05L869.37 1892.05" fill="none" stroke="#aa0000" stroke-width="5"/>
<path d="M895.9 1861.15L895.9 1866.86M888.9 1861.15L902.9 1861.15M888.9 1866.86L902.9 1866.86" fill="none" stroke="#aa0000" stroke-width="5"/>
<path d="M929.44 1816.94L929.44 1823.59M922.44 1816.94L936.44 1816.94M922.44 1823.59L936.44 1823.59" fill="none" stroke="#aa0000" stroke-width="5"/>
<path d="M962.97 1742.78L962.97 1752.28M955.97 1742.78L969.97 1742.78M955.97 1752.28L969.97 1752.28" fill="none" stroke="#aa0000" stroke-width="5"/>
<path d="M996.5 1592.55L996.5 1611.57M989.5 1592.55L1003.5 1592.55M989.5 1611.57L1003.5 1611.57" fill="none" stroke="#aa0000" stroke-width="5"/>
<circle cx="225.26" cy="1923.67" r="18.4" fill="none" stroke="#aa0000" stroke-width="5.2"/>
<circle cx="258.8" cy="1917.49" r="18.4" fill="none" stroke="#aa0000" stroke-width="5.2"/>
<circle cx="292.33" cy="1916.06" r="18.4" fill="none" stroke="#aa0000" stroke-width="5.2"/>
<circle cx="325.86" cy="1914.87" r="18.4" fill="none" stroke="#aa0000" stroke-width="5.2"/>
<circle cx="359.39" cy="1914.87" r="18.4" fill="none" stroke="#aa0000" stroke-width="5.2"/>
<circle cx="392.92" cy="1915.82" r="18.4" fill="none" stroke="#aa0000" stroke-width="5.2"/>
<circle cx="426.46" cy="1914.87" r="18.4" fill="none" stroke="#aa0000" stroke-width="5.2"/>
<circle cx="459.99" cy="1912.26" r="18.4" fill="none" stroke="#aa0000" stroke-width="5.2"/>
<circle cx="493.52" cy="1914.87" r="18.4" fill="none" stroke="#aa0000" stroke-width="5.2"/>
<circle cx="527.05" cy="1917.49" r="18.4" fill="none" stroke="#aa0000" stroke-width="5.2"/>
<circle cx="560.58" cy="1916.06" r="18.4" fill="none" stroke="#aa0000" stroke-width="5.2"/>
<circle cx="594.12" cy="1917.49" r="18.4" fill="none" stroke="#aa0000" stroke-width="5.2"/>
<circle cx="627.65" cy="1915.35" r="18.4" fill="none" stroke="#aa0000" stroke-width="5.2"/>
<circle cx="661.18" cy="1915.58" r="18.4" fill="none" stroke="#aa0000" stroke-width="5.2"/>
<circle cx="694.71" cy="1914.4" r="18.4" fill="none" stroke="#aa0000" stroke-width="5.2"/>
<circle cx="728.24" cy="1915.58" r="18.4" fill="none" stroke="#aa0000" stroke-width="5.2"/>
<circle cx="761.78" cy="1911.07" r="18.4" fill="none" stroke="#aa0000" stroke-width="5.2"/>
<circle cx="795.31" cy="1905.84" r="18.4" fill="none" stroke="#aa0000" stroke-width="5.2"/>
<circle cx="828.84" cy="1898.47" r="18.4" fill="none" stroke="#aa0000" stroke-width="5.2"/>
<circle cx="862.37" cy="1885.63" r="18.4" fill="none" stroke="#aa0000" stroke-width="5.2"/>
<circle cx="895.9" cy="1863.53" r="18.4" fill="none" stroke="#aa0000" stroke-width="5.2"/>
<circle cx="929.44" cy="1823.36" r="18.4" fill="none" stroke="#aa0000" stroke-width="5.2"/>
<circle cx="962.97" cy="1750.86" r="18.4" fill="none" stroke="#aa0000" stroke-width="5.2"/>
<circle cx="996.5" cy="1602.53" r="18.4" fill="none" stroke="#aa0000" stroke-width="5.2"/>
<path d="M225.26 1879.22L225.26 1935.31M217.76 1879.22L232.76 1879.22M217.76 1935.31L232.76 1935.31" fill="none" stroke="#0000ff" stroke-width="5.6"/>
<path d="M258.8 1906.55L258.8 1925.57M251.3 1906.55L266.3 1906.55M251.3 1925.57L266.3 1925.57" fill="none" stroke="#0000ff" stroke-width="5.6"/>
<path d="M292.33 1899.9L292.33 1942.68M284.83 1899.9L299.83 1899.9M284.83 1942.68L299.83 1942.68" fill="none" stroke="#0000ff" stroke-width="5.6"/>
<path d="M325.86 1898.94L325.86 1951.24M318.36 1898.94L333.36 1898.94M318.36 1951.24L333.36 1951.24" fill="none" stroke="#0000ff" stroke-width="5.6"/>
<path d="M359.39 1915.58L359.39 1939.35M351.89 1915.58L366.89 1915.58M351.89 1939.35L366.89 1939.35" fill="none" stroke="#0000ff" stroke-width="5.6"/>
<path d="M392.92 1911.54L392.92 1925.8M385.42 1911.54L400.42 1911.54M385.42 1925.8L400.42 1925.8" fill="none" stroke="#0000ff" stroke-width="5.6"/>
<path d="M426.46 1929.37L426.46 1943.63M418.96 1929.37L433.96 1929.37M418.96 1943.63L433.96 1943.63" fill="none" stroke="#0000ff" stroke-width="5.6"/>
<path d="M459.99 1922.95L459.99 1937.21M452.49 1922.95L467.49 1922.95M452.49 1937.21L467.49 1937.21" fill="none" stroke="#0000ff" stroke-width="5.6"/>
<path d="M493.52 1911.78L493.52 1935.55M486.02 1911.78L501.02 1911.78M486.02 1935.55L501.02 1935.55" fill="none" stroke="#0000ff" stroke-width="5.6"/>
<path d="M527.05 1934.36L527.05 1948.62M519.55 1934.36L534.55 1934.36M519.55 1948.62L534.55 1948.62" fill="none" stroke="#0000ff" stroke-width="5.6"/>
<path d="M560.58 1934.36L560.58 1948.62M553.08 1934.36L568.08 1934.36M553.08 1948.62L568.08 1948.62" fill="none" stroke="#0000ff" stroke-width="5.6"/>
<path d="M594.12 1936.74L594.12 1951M586.62 1936.74L601.62 1936.74M586.62 1951L601.62 1951" fill="none" stroke="#0000ff" stroke-width="5.6"/>
<path d="M627.65 1930.56L627.65 1944.82M620.15 1930.56L635.15 1930.56M620.15 1944.82L635.15 1944.82" fill="none" stroke="#0000ff" stroke-width="5.6"/>
<path d="M661.18 1937.69L661.18 1951.95M653.68 1937.69L668.68 1937.69M653.68 1951.95L668.68 1951.95" fill="none" stroke="#0000ff" stroke-width="5.6"/>
<path d="M694.71 1933.89L694.71 1948.15M687.21 1933.89L702.21 1933.89M687.21 1948.15L702.21 1948.15" fill="none" stroke="#0000ff" stroke-width="5.6"/>
<path d="M728.24 1938.88L728.24 1953.14M720.74 1938.88L735.74 1938.88M720.74 1953.14L735.74 1953.14" fill="none" stroke="#0000ff" stroke-width="5.6"/>
<path d="M761.78 1938.88L761.78 1953.14M754.28 1938.88L769.28 1938.88M754.28 1953.14L769.28 1953.14" fill="none" stroke="#0000ff" stroke-width="5.6"/>
<path d="M795.31 1935.08L795.31 1949.34M787.81 1935.08L802.81 1935.08M787.81 1949.34L802.81 1949.34" fill="none" stroke="#0000ff" stroke-width="5.6"/>
<path d="M828.84 1937.69L828.84 1951.95M821.34 1937.69L836.34 1937.69M821.34 1951.95L836.34 1951.95" fill="none" stroke="#0000ff" stroke-width="5.6"/>
<path d="M862.37 1923.43L862.37 1937.69M854.87 1923.43L869.87 1923.43M854.87 1937.69L869.87 1937.69" fill="none" stroke="#0000ff" stroke-width="5.6"/>
<path d="M895.9 1911.31L895.9 1920.81M888.4 1911.31L903.4 1911.31M888.4 1920.81L903.4 1920.81" fill="none" stroke="#0000ff" stroke-width="5.6"/>
<path d="M929.44 1881.12L929.44 1890.63M921.94 1881.12L936.94 1881.12M921.94 1890.63L936.94 1890.63" fill="none" stroke="#0000ff" stroke-width="5.6"/>
<path d="M962.97 1813.13L962.97 1827.4M955.47 1813.13L970.47 1813.13M955.47 1827.4L970.47 1827.4" fill="none" stroke="#0000ff" stroke-width="5.6"/>
<path d="M996.5 1724.95L996.5 1739.21M989 1724.95L1004 1724.95M989 1739.21L1004 1739.21" fill="none" stroke="#0000ff" stroke-width="5.6"/>
<circle cx="225.26" cy="1907.26" r="18.4" fill="none" stroke="#0000ff" stroke-width="5.2"/>
<circle cx="258.8" cy="1916.06" r="18.4" fill="none" stroke="#0000ff" stroke-width="5.2"/>
<circle cx="292.33" cy="1921.29" r="18.4" fill="none" stroke="#0000ff" stroke-width="5.2"/>
<circle cx="325.86" cy="1925.09" r="18.4" fill="none" stroke="#0000ff" stroke-width="5.2"/>
<circle cx="359.39" cy="1927.47" r="18.4" fill="none" stroke="#0000ff" stroke-width="5.2"/>
<circle cx="392.92" cy="1918.67" r="18.4" fill="none" stroke="#0000ff" stroke-width="5.2"/>
<circle cx="426.46" cy="1936.5" r="18.4" fill="none" stroke="#0000ff" stroke-width="5.2"/>
<circle cx="459.99" cy="1930.08" r="18.4" fill="none" stroke="#0000ff" stroke-width="5.2"/>
<circle cx="493.52" cy="1923.67" r="18.4" fill="none" stroke="#0000ff" stroke-width="5.2"/>
<circle cx="527.05" cy="1941.49" r="18.4" fill="none" stroke="#0000ff" stroke-width="5.2"/>
<circle cx="560.58" cy="1941.49" r="18.4" fill="none" stroke="#0000ff" stroke-width="5.2"/>
<circle cx="594.12" cy="1943.87" r="18.4" fill="none" stroke="#0000ff" stroke-width="5.2"/>
<circle cx="627.65" cy="1937.69" r="18.4" fill="none" stroke="#0000ff" stroke-width="5.2"/>
<circle cx="661.18" cy="1944.82" r="18.4" fill="none" stroke="#0000ff" stroke-width="5.2"/>
<circle cx="694.71" cy="1941.02" r="18.4" fill="none" stroke="#0000ff" stroke-width="5.2"/>
<circle cx="728.24" cy="1946.01" r="18.4" fill="none" stroke="#0000ff" stroke-width="5.2"/>
<circle cx="761.78" cy="1946.01" r="18.4" fill="none" stroke="#0000ff" stroke-width="5.2"/>
<circle cx="795.31" cy="1942.21" r="18.4" fill="none" stroke="#0000ff" stroke-width="5.2"/>
<circle cx="828.84" cy="1944.82" r="18.4" fill="none" stroke="#0000ff" stroke-width="5.2"/>
<circle cx="862.37" cy="1930.56" r="18.4" fill="none" stroke="#0000ff" stroke-width="5.2"/>
<circle cx="895.9" cy="1916.06" r="18.4" fill="none" stroke="#0000ff" stroke-width="5.2"/>
<circle cx="929.44" cy="1885.87" r="18.4" fill="none" stroke="#0000ff" stroke-width="5.2"/>
<circle cx="962.97" cy="1820.27" r="18.4" fill="none" stroke="#0000ff" stroke-width="5.2"/>
<circle cx="996.5" cy="1732.08" r="18.4" fill="none" stroke="#0000ff" stroke-width="5.2"/>
<rect x="206.66" y="1931.4" width="37.2" height="37.2" fill="none" stroke="#000000" stroke-width="4.5"/>
<rect x="240.2" y="1934.8" width="37.2" height="37.2" fill="none" stroke="#000000" stroke-width="4.5"/>
<rect x="273.73" y="1950" width="37.2" height="37.2" fill="none" stroke="#000000" stroke-width="4.5"/>
<rect x="307.26" y="1951.9" width="37.2" height="37.2" fill="none" stroke="#000000" stroke-width="4.5"/>
<rect x="340.79" y="1963.4" width="37.2" height="37.2" fill="none" stroke="#000000" stroke-width="4.5"/>
<rect x="374.32" y="1945.6" width="37.2" height="37.2" fill="none" stroke="#000000" stroke-width="4.5"/>
<rect x="407.86" y="2003.6" width="37.2" height="37.2" fill="none" stroke="#000000" stroke-width="4.5"/>
<rect x="441.39" y="1999.8" width="37.2" height="37.2" fill="none" stroke="#000000" stroke-width="4.5"/>
<rect x="474.92" y="1992.5" width="37.2" height="37.2" fill="none" stroke="#000000" stroke-width="4.5"/>
<rect x="508.45" y="1934.7" width="37.2" height="37.2" fill="none" stroke="#000000" stroke-width="4.5"/>
<rect x="541.98" y="1996.6" width="37.2" height="37.2" fill="none" stroke="#000000" stroke-width="4.5"/>
<rect x="575.52" y="1985.8" width="37.2" height="37.2" fill="none" stroke="#000000" stroke-width="4.5"/>
<rect x="609.05" y="1995.7" width="37.2" height="37.2" fill="none" stroke="#000000" stroke-width="4.5"/>
<rect x="642.58" y="2006" width="37.2" height="37.2" fill="none" stroke="#000000" stroke-width="4.5"/>
<rect x="676.11" y="1996.4" width="37.2" height="37.2" fill="none" stroke="#000000" stroke-width="4.5"/>
<rect x="709.64" y="1992.8" width="37.2" height="37.2" fill="none" stroke="#000000" stroke-width="4.5"/>
<rect x="743.18" y="1986.7" width="37.2" height="37.2" fill="none" stroke="#000000" stroke-width="4.5"/>
<rect x="776.71" y="1992.8" width="37.2" height="37.2" fill="none" stroke="#000000" stroke-width="4.5"/>
<rect x="810.24" y="1938.4" width="37.2" height="37.2" fill="none" stroke="#000000" stroke-width="4.5"/>
<rect x="843.77" y="1952.9" width="37.2" height="37.2" fill="none" stroke="#000000" stroke-width="4.5"/>
<rect x="877.3" y="1901.7" width="37.2" height="37.2" fill="none" stroke="#000000" stroke-width="4.5"/>
<rect x="910.84" y="1866.4" width="37.2" height="37.2" fill="none" stroke="#000000" stroke-width="4.5"/>
<rect x="944.37" y="1752.7" width="37.2" height="37.2" fill="none" stroke="#000000" stroke-width="4.5"/>
<rect x="977.9" y="1579.1" width="37.2" height="37.2" fill="none" stroke="#000000" stroke-width="4.5"/>
<circle cx="359.39" cy="1925.9" r="18.4" fill="none" stroke="#000000" stroke-width="5.2"/>
<circle cx="392.92" cy="1920" r="18.4" fill="none" stroke="#000000" stroke-width="5.2"/>
<circle cx="426.46" cy="1925.6" r="18.4" fill="none" stroke="#000000" stroke-width="5.2"/>
<circle cx="459.99" cy="1927" r="18.4" fill="none" stroke="#000000" stroke-width="5.2"/>
<circle cx="493.52" cy="1926.7" r="18.4" fill="none" stroke="#000000" stroke-width="5.2"/>
<circle cx="527.05" cy="1930.7" r="18.4" fill="none" stroke="#000000" stroke-width="5.2"/>
<circle cx="560.58" cy="1930.7" r="18.4" fill="none" stroke="#000000" stroke-width="5.2"/>
<circle cx="594.12" cy="1925.4" r="18.4" fill="none" stroke="#000000" stroke-width="5.2"/>
<circle cx="627.65" cy="1933.5" r="18.4" fill="none" stroke="#000000" stroke-width="5.2"/>
<circle cx="661.18" cy="1940.2" r="18.4" fill="none" stroke="#000000" stroke-width="5.2"/>
<circle cx="694.71" cy="1939.3" r="18.4" fill="none" stroke="#000000" stroke-width="5.2"/>
<circle cx="728.24" cy="1912.4" r="18.4" fill="none" stroke="#000000" stroke-width="5.2"/>
<circle cx="761.78" cy="1928.9" r="18.4" fill="none" stroke="#000000" stroke-width="5.2"/>
<circle cx="795.31" cy="1921.8" r="18.4" fill="none" stroke="#000000" stroke-width="5.2"/>
<circle cx="828.84" cy="1874.6" r="18.4" fill="none" stroke="#000000" stroke-width="5.2"/>
<circle cx="862.37" cy="1867.2" r="18.4" fill="none" stroke="#000000" stroke-width="5.2"/>
<circle cx="895.9" cy="1808" r="18.4" fill="none" stroke="#000000" stroke-width="5.2"/>
<circle cx="929.44" cy="1786.3" r="18.4" fill="none" stroke="#000000" stroke-width="5.2"/>
<circle cx="962.97" cy="1645.5" r="18.4" fill="none" stroke="#000000" stroke-width="5.2"/>
<circle cx="996.5" cy="1516.4" r="18.4" fill="none" stroke="#000000" stroke-width="5.2"/>
</g>
<line x1="155.5" y1="569.4" x2="1001" y2="569.4" stroke="#808080" stroke-width="4.4" stroke-dasharray="15.3 8.01"/>
<line x1="155.5" y1="1308.3" x2="1001" y2="1308.3" stroke="#808080" stroke-width="4.4" stroke-dasharray="15.3 8.01"/>
<line x1="155.5" y1="1920.1" x2="1001" y2="1920.1" stroke="#808080" stroke-width="4.4" stroke-dasharray="15.3 8.01"/>
<path d="M158.2 2.95L158.2 14.75M158.2 694.4L158.2 718M158.2 1397.7L158.2 1421.3M158.2 2101L158.2 2112.8M191.73 2.95L191.73 10.15M191.73 699L191.73 713.4M191.73 1402.3L191.73 1416.7M191.73 2105.6L191.73 2112.8M225.26 2.95L225.26 10.15M225.26 699L225.26 713.4M225.26 1402.3L225.26 1416.7M225.26 2105.6L225.26 2112.8M258.8 2.95L258.8 10.15M258.8 699L258.8 713.4M258.8 1402.3L258.8 1416.7M258.8 2105.6L258.8 2112.8M292.33 2.95L292.33 10.15M292.33 699L292.33 713.4M292.33 1402.3L292.33 1416.7M292.33 2105.6L292.33 2112.8M325.86 2.95L325.86 14.75M325.86 694.4L325.86 718M325.86 1397.7L325.86 1421.3M325.86 2101L325.86 2112.8M359.39 2.95L359.39 10.15M359.39 699L359.39 713.4M359.39 1402.3L359.39 1416.7M359.39 2105.6L359.39 2112.8M392.92 2.95L392.92 10.15M392.92 699L392.92 713.4M392.92 1402.3L392.92 1416.7M392.92 2105.6L392.92 2112.8M426.46 2.95L426.46 10.15M426.46 699L426.46 713.4M426.46 1402.3L426.46 1416.7M426.46 2105.6L426.46 2112.8M459.99 2.95L459.99 10.15M459.99 699L459.99 713.4M459.99 1402.3L459.99 1416.7M459.99 2105.6L459.99 2112.8M493.52 2.95L493.52 14.75M493.52 694.4L493.52 718M493.52 1397.7L493.52 1421.3M493.52 2101L493.52 2112.8M527.05 2.95L527.05 10.15M527.05 699L527.05 713.4M527.05 1402.3L527.05 1416.7M527.05 2105.6L527.05 2112.8M560.58 2.95L560.58 10.15M560.58 699L560.58 713.4M560.58 1402.3L560.58 1416.7M560.58 2105.6L560.58 2112.8M594.12 2.95L594.12 10.15M594.12 699L594.12 713.4M594.12 1402.3L594.12 1416.7M594.12 2105.6L594.12 2112.8M627.65 2.95L627.65 10.15M627.65 699L627.65 713.4M627.65 1402.3L627.65 1416.7M627.65 2105.6L627.65 2112.8M661.18 2.95L661.18 14.75M661.18 694.4L661.18 718M661.18 1397.7L661.18 1421.3M661.18 2101L661.18 2112.8M694.71 2.95L694.71 10.15M694.71 699L694.71 713.4M694.71 1402.3L694.71 1416.7M694.71 2105.6L694.71 2112.8M728.24 2.95L728.24 10.15M728.24 699L728.24 713.4M728.24 1402.3L728.24 1416.7M728.24 2105.6L728.24 2112.8M761.78 2.95L761.78 10.15M761.78 699L761.78 713.4M761.78 1402.3L761.78 1416.7M761.78 2105.6L761.78 2112.8M795.31 2.95L795.31 10.15M795.31 699L795.31 713.4M795.31 1402.3L795.31 1416.7M795.31 2105.6L795.31 2112.8M828.84 2.95L828.84 14.75M828.84 694.4L828.84 718M828.84 1397.7L828.84 1421.3M828.84 2101L828.84 2112.8M862.37 2.95L862.37 10.15M862.37 699L862.37 713.4M862.37 1402.3L862.37 1416.7M862.37 2105.6L862.37 2112.8M895.9 2.95L895.9 10.15M895.9 699L895.9 713.4M895.9 1402.3L895.9 1416.7M895.9 2105.6L895.9 2112.8M929.44 2.95L929.44 10.15M929.44 699L929.44 713.4M929.44 1402.3L929.44 1416.7M929.44 2105.6L929.44 2112.8M962.97 2.95L962.97 10.15M962.97 699L962.97 713.4M962.97 1402.3L962.97 1416.7M962.97 2105.6L962.97 2112.8M996.5 2.95L996.5 14.75M996.5 694.4L996.5 718M996.5 1397.7L996.5 1421.3M996.5 2101L996.5 2112.8M140.75 692.1L147.95 692.1M1014.2 692.1L1007 692.1M140.75 651.2L147.95 651.2M1014.2 651.2L1007 651.2M140.75 610.3L147.95 610.3M1014.2 610.3L1007 610.3M140.75 569.4L152.55 569.4M1014.2 569.4L1002.4 569.4M140.75 528.5L147.95 528.5M1014.2 528.5L1007 528.5M140.75 487.6L147.95 487.6M1014.2 487.6L1007 487.6M140.75 446.7L147.95 446.7M1014.2 446.7L1007 446.7M140.75 405.8L147.95 405.8M1014.2 405.8L1007 405.8M140.75 364.9L152.55 364.9M1014.2 364.9L1002.4 364.9M140.75 324L147.95 324M1014.2 324L1007 324M140.75 283.1L147.95 283.1M1014.2 283.1L1007 283.1M140.75 242.2L147.95 242.2M1014.2 242.2L1007 242.2M140.75 201.3L147.95 201.3M1014.2 201.3L1007 201.3M140.75 160.4L152.55 160.4M1014.2 160.4L1002.4 160.4M140.75 119.5L147.95 119.5M1014.2 119.5L1007 119.5M140.75 78.6L147.95 78.6M1014.2 78.6L1007 78.6M140.75 37.7L147.95 37.7M1014.2 37.7L1007 37.7M140.75 1395.46L147.95 1395.46M1014.2 1395.46L1007 1395.46M140.75 1373.67L147.95 1373.67M1014.2 1373.67L1007 1373.67M140.75 1351.88L147.95 1351.88M1014.2 1351.88L1007 1351.88M140.75 1330.09L147.95 1330.09M1014.2 1330.09L1007 1330.09M140.75 1308.3L152.55 1308.3M1014.2 1308.3L1002.4 1308.3M140.75 1286.51L147.95 1286.51M1014.2 1286.51L1007 1286.51M140.75 1264.72L147.95 1264.72M1014.2 1264.72L1007 1264.72M140.75 1242.93L147.95 1242.93M1014.2 1242.93L1007 1242.93M140.75 1221.14L147.95 1221.14M1014.2 1221.14L1007 1221.14M140.75 1199.35L152.55 1199.35M1014.2 1199.35L1002.4 1199.35M140.75 1177.56L147.95 1177.56M1014.2 1177.56L1007 1177.56M140.75 1155.77L147.95 1155.77M1014.2 1155.77L1007 1155.77M140.75 1133.98L147.95 1133.98M1014.2 1133.98L1007 1133.98M140.75 1112.19L147.95 1112.19M1014.2 1112.19L1007 1112.19M140.75 1090.4L152.55 1090.4M1014.2 1090.4L1002.4 1090.4M140.75 1068.61L147.95 1068.61M1014.2 1068.61L1007 1068.61M140.75 1046.82L147.95 1046.82M1014.2 1046.82L1007 1046.82M140.75 1025.03L147.95 1025.03M1014.2 1025.03L1007 1025.03M140.75 1003.24L147.95 1003.24M1014.2 1003.24L1007 1003.24M140.75 981.45L152.55 981.45M1014.2 981.45L1002.4 981.45M140.75 959.66L147.95 959.66M1014.2 959.66L1007 959.66M140.75 937.87L147.95 937.87M1014.2 937.87L1007 937.87M140.75 916.08L147.95 916.08M1014.2 916.08L1007 916.08M140.75 894.29L147.95 894.29M1014.2 894.29L1007 894.29M140.75 872.5L152.55 872.5M1014.2 872.5L1002.4 872.5M140.75 850.71L147.95 850.71M1014.2 850.71L1007 850.71M140.75 828.92L147.95 828.92M1014.2 828.92L1007 828.92M140.75 807.13L147.95 807.13M1014.2 807.13L1007 807.13M140.75 785.34L147.95 785.34M1014.2 785.34L1007 785.34M140.75 763.55L152.55 763.55M1014.2 763.55L1002.4 763.55M140.75 741.76L147.95 741.76M1014.2 741.76L1007 741.76M140.75 719.97L147.95 719.97M1014.2 719.97L1007 719.97M140.75 2110.26L147.95 2110.26M1014.2 2110.26L1007 2110.26M140.75 2086.49L147.95 2086.49M1014.2 2086.49L1007 2086.49M140.75 2062.72L147.95 2062.72M1014.2 2062.72L1007 2062.72M140.75 2038.95L152.55 2038.95M1014.2 2038.95L1002.4 2038.95M140.75 2015.18L147.95 2015.18M1014.2 2015.18L1007 2015.18M140.75 1991.41L147.95 1991.41M1014.2 1991.41L1007 1991.41M140.75 1967.64L147.95 1967.64M1014.2 1967.64L1007 1967.64M140.75 1943.87L147.95 1943.87M1014.2 1943.87L1007 1943.87M140.75 1920.1L152.55 1920.1M1014.2 1920.1L1002.4 1920.1M140.75 1896.33L147.95 1896.33M1014.2 1896.33L1007 1896.33M140.75 1872.56L147.95 1872.56M1014.2 1872.56L1007 1872.56M140.75 1848.79L147.95 1848.79M1014.2 1848.79L1007 1848.79M140.75 1825.02L147.95 1825.02M1014.2 1825.02L1007 1825.02M140.75 1801.25L152.55 1801.25M1014.2 1801.25L1002.4 1801.25M140.75 1777.48L147.95 1777.48M1014.2 1777.48L1007 1777.48M140.75 1753.71L147.95 1753.71M1014.2 1753.71L1007 1753.71M140.75 1729.94L147.95 1729.94M1014.2 1729.94L1007 1729.94M140.75 1706.17L147.95 1706.17M1014.2 1706.17L1007 1706.17M140.75 1682.4L152.55 1682.4M1014.2 1682.4L1002.4 1682.4M140.75 1658.63L147.95 1658.63M1014.2 1658.63L1007 1658.63M140.75 1634.86L147.95 1634.86M1014.2 1634.86L1007 1634.86M140.75 1611.09L147.95 1611.09M1014.2 1611.09L1007 1611.09M140.75 1587.32L147.95 1587.32M1014.2 1587.32L1007 1587.32M140.75 1563.55L152.55 1563.55M1014.2 1563.55L1002.4 1563.55M140.75 1539.78L147.95 1539.78M1014.2 1539.78L1007 1539.78M140.75 1516.01L147.95 1516.01M1014.2 1516.01L1007 1516.01M140.75 1492.24L147.95 1492.24M1014.2 1492.24L1007 1492.24M140.75 1468.47L147.95 1468.47M1014.2 1468.47L1007 1468.47M140.75 1444.7L152.55 1444.7M1014.2 1444.7L1002.4 1444.7M140.75 1420.93L147.95 1420.93M1014.2 1420.93L1007 1420.93" fill="none" stroke="#000000" stroke-width="3.0"/>
<rect x="140.75" y="2.95" width="873.45" height="2109.85" fill="none" stroke="#000000" stroke-width="3.4"/>
<line x1="140.75" y1="706.2" x2="1014.2" y2="706.2" stroke="#000000" stroke-width="3.4" />
<line x1="140.75" y1="1409.5" x2="1014.2" y2="1409.5" stroke="#000000" stroke-width="3.4" />
<text x="132" y="585.2" font-family='"Liberation Serif", serif' font-size="48" text-anchor="end" textLength="62.5" lengthAdjust="spacingAndGlyphs"  stroke="#000" stroke-width="0.5">1.0</text>
<text x="132" y="380.7" font-family='"Liberation Serif", serif' font-size="48" text-anchor="end" textLength="62.5" lengthAdjust="spacingAndGlyphs"  stroke="#000" stroke-width="0.5">1.5</text>
<text x="132" y="176.2" font-family='"Liberation Serif", serif' font-size="48" text-anchor="end" textLength="62.5" lengthAdjust="spacingAndGlyphs"  stroke="#000" stroke-width="0.5">2.0</text>
<text x="132" y="1324.1" font-family='"Liberation Serif", serif' font-size="48" text-anchor="end" textLength="62.5" lengthAdjust="spacingAndGlyphs"  stroke="#000" stroke-width="0.5">1.0</text>
<text x="132" y="1215.15" font-family='"Liberation Serif", serif' font-size="48" text-anchor="end" textLength="62.5" lengthAdjust="spacingAndGlyphs"  stroke="#000" stroke-width="0.5">1.5</text>
<text x="132" y="1106.2" font-family='"Liberation Serif", serif' font-size="48" text-anchor="end" textLength="62.5" lengthAdjust="spacingAndGlyphs"  stroke="#000" stroke-width="0.5">2.0</text>
<text x="132" y="997.25" font-family='"Liberation Serif", serif' font-size="48" text-anchor="end" textLength="62.5" lengthAdjust="spacingAndGlyphs"  stroke="#000" stroke-width="0.5">2.5</text>
<text x="132" y="888.3" font-family='"Liberation Serif", serif' font-size="48" text-anchor="end" textLength="62.5" lengthAdjust="spacingAndGlyphs"  stroke="#000" stroke-width="0.5">3.0</text>
<text x="132" y="779.35" font-family='"Liberation Serif", serif' font-size="48" text-anchor="end" textLength="62.5" lengthAdjust="spacingAndGlyphs"  stroke="#000" stroke-width="0.5">3.5</text>
<text x="132" y="2054.75" font-family='"Liberation Serif", serif' font-size="48" text-anchor="end" textLength="62.5" lengthAdjust="spacingAndGlyphs"  stroke="#000" stroke-width="0.5">0.5</text>
<text x="132" y="1935.9" font-family='"Liberation Serif", serif' font-size="48" text-anchor="end" textLength="62.5" lengthAdjust="spacingAndGlyphs"  stroke="#000" stroke-width="0.5">1.0</text>
<text x="132" y="1817.05" font-family='"Liberation Serif", serif' font-size="48" text-anchor="end" textLength="62.5" lengthAdjust="spacingAndGlyphs"  stroke="#000" stroke-width="0.5">1.5</text>
<text x="132" y="1698.2" font-family='"Liberation Serif", serif' font-size="48" text-anchor="end" textLength="62.5" lengthAdjust="spacingAndGlyphs"  stroke="#000" stroke-width="0.5">2.0</text>
<text x="132" y="1579.35" font-family='"Liberation Serif", serif' font-size="48" text-anchor="end" textLength="62.5" lengthAdjust="spacingAndGlyphs"  stroke="#000" stroke-width="0.5">2.5</text>
<text x="132" y="1460.5" font-family='"Liberation Serif", serif' font-size="48" text-anchor="end" textLength="62.5" lengthAdjust="spacingAndGlyphs"  stroke="#000" stroke-width="0.5">3.0</text>
<text x="158.2" y="2163.6" font-family='"Liberation Serif", serif' font-size="48" text-anchor="middle" textLength="62.5" lengthAdjust="spacingAndGlyphs"  stroke="#000" stroke-width="0.5">0.0</text>
<text x="325.86" y="2163.6" font-family='"Liberation Serif", serif' font-size="48" text-anchor="middle" textLength="62.5" lengthAdjust="spacingAndGlyphs"  stroke="#000" stroke-width="0.5">0.1</text>
<text x="493.52" y="2163.6" font-family='"Liberation Serif", serif' font-size="48" text-anchor="middle" textLength="62.5" lengthAdjust="spacingAndGlyphs"  stroke="#000" stroke-width="0.5">0.2</text>
<text x="661.18" y="2163.6" font-family='"Liberation Serif", serif' font-size="48" text-anchor="middle" textLength="62.5" lengthAdjust="spacingAndGlyphs"  stroke="#000" stroke-width="0.5">0.3</text>
<text x="828.84" y="2163.6" font-family='"Liberation Serif", serif' font-size="48" text-anchor="middle" textLength="62.5" lengthAdjust="spacingAndGlyphs"  stroke="#000" stroke-width="0.5">0.4</text>
<text x="996.5" y="2163.6" font-family='"Liberation Serif", serif' font-size="48" text-anchor="middle" textLength="62.5" lengthAdjust="spacingAndGlyphs"  stroke="#000" stroke-width="0.5">0.5</text>
<text transform="translate(165.15 674.04) scale(1.075 1)" font-family='"Liberation Serif", serif' font-size="56.99"  stroke="#000" stroke-width="0.5">a</text>
<text transform="translate(192.24 672.94) scale(1.066 1)" font-family='"Liberation Serif", serif' font-size="48.19"  stroke="#000" stroke-width="0.5">)</text>
<text transform="translate(164.2 1373.35) scale(1.073 1)" font-family='"Liberation Serif", serif' font-size="56.71"  stroke="#000" stroke-width="0.5">b</text>
<text transform="translate(194.53 1371.44) scale(1.074 1)" font-family='"Liberation Serif", serif' font-size="48.19"  stroke="#000" stroke-width="0.5">)</text>
<text transform="translate(165.72 2071.75) scale(1.099 1)" font-family='"Liberation Serif", serif' font-size="56.76"  stroke="#000" stroke-width="0.5">c</text>
<text transform="translate(191.34 2069.84) scale(1.131 1)" font-family='"Liberation Serif", serif' font-size="48.19"  stroke="#000" stroke-width="0.5">)</text>
<text transform="translate(564.2 2235) scale(1.1 1)" font-family='"Liberation Serif", serif' font-size="47" font-style="italic" stroke="#000" stroke-width="0.5">&#981;</text>
<g transform="translate(41.0 354) rotate(-90)" font-family='"Liberation Serif", serif' font-style="italic">
<text transform="translate(-43.24 0) scale(1.1 1)" font-size="47" stroke="#000" stroke-width="0.5">&#951;</text>
<text transform="translate(-16.88 7.2) scale(0.6 1)" font-size="59" stroke="#000" stroke-width="1.5">/</text>
<text transform="translate(-4.64 0) scale(1.1 1)" font-size="47" stroke="#000" stroke-width="0.5">&#951;</text>
<text transform="translate(21.11 -18.3) scale(1.0 1)" font-size="35" stroke="#000" stroke-width="0.5">E</text>
</g>
<g transform="translate(41.0 1057.5) rotate(-90)" font-family='"Liberation Serif", serif' font-style="italic">
<text transform="translate(-54.54 0) scale(1.1 1)" font-size="47" stroke="#000" stroke-width="0.5">&#951;</text>
<text transform="translate(-29.85 8.2) scale(1.05 1)" font-size="36" stroke="#000" stroke-width="0.5">B</text>
<text transform="translate(-5.38 7.2) scale(0.6 1)" font-size="59" stroke="#000" stroke-width="1.5">/</text>
<text transform="translate(6.26 0) scale(1.1 1)" font-size="47" stroke="#000" stroke-width="0.5">&#951;</text>
<text transform="translate(31.25 11.3) scale(1.05 1)" font-size="36" stroke="#000" stroke-width="0.5">B</text>
<text transform="translate(31.71 -19.1) scale(1.0 1)" font-size="35" stroke="#000" stroke-width="0.5">E</text>
</g>
<g transform="translate(41.0 1761) rotate(-90)" font-family='"Liberation Serif", serif' font-style="italic">
<text transform="translate(-52.64 0) scale(1.1 1)" font-size="47" stroke="#000" stroke-width="0.5">&#951;</text>
<text transform="translate(-26.78 7.8) scale(1.0 1)" font-size="36" stroke="#000" stroke-width="0.5">L</text>
<text transform="translate(-6.48 7.2) scale(0.6 1)" font-size="59" stroke="#000" stroke-width="1.5">/</text>
<text transform="translate(5.46 0) scale(1.1 1)" font-size="47" stroke="#000" stroke-width="0.5">&#951;</text>
<text transform="translate(30.52 11.3) scale(1.0 1)" font-size="36" stroke="#000" stroke-width="0.5">L</text>
<text transform="translate(30.91 -18.8) scale(1.0 1)" font-size="35" stroke="#000" stroke-width="0.5">E</text>
</g>
<line x1="178.3" y1="78.8" x2="237" y2="78.8" stroke="#aa0000" stroke-width="5.6" />
<text x="252.4" y="90.8" font-family='"Liberation Sans", sans-serif' font-size="28.8" text-anchor="start"  stroke="#000" stroke-width="0.3">HS</text>
<line x1="178.3" y1="134.1" x2="237" y2="134.1" stroke="#0000ff" stroke-width="5.6" />
<text x="252.4" y="146" font-family='"Liberation Sans", sans-serif' font-size="28.8" text-anchor="start"  stroke="#000" stroke-width="0.3">PHS</text>
<path d="M209.4 209.6L234 234.2M209.4 234.2L234 209.6" fill="none" stroke="#0000ff" stroke-width="4.6"/>
<text x="252.4" y="232.1" font-family='"Liberation Sans", sans-serif' font-size="28.8" text-anchor="start"  stroke="#000" stroke-width="0.3">Pousaneh</text>
<rect x="203.35" y="272.85" width="34.9" height="34.9" fill="none" stroke="#000000" stroke-width="4.4"/>
<text x="256.5" y="301.4" font-family='"Liberation Sans", sans-serif' font-size="28.8" text-anchor="start"  stroke="#000" stroke-width="0.3">Nicasio&#8722;Collazo</text>
<circle cx="507.5" cy="58.3" r="17.1" fill="none" stroke="#aa0000" stroke-width="5"/>
<text x="543.3" y="69.5" font-family='"Liberation Sans", sans-serif' font-size="28.8" text-anchor="start" textLength="289" lengthAdjust="spacingAndGlyphs"  stroke="#000" stroke-width="0.3">Sigurgeirsson <tspan font-style="italic">N</tspan>=4000</text>
<rect x="502.65" y="127.15" width="21.5" height="21.5" fill="none" stroke="#aa0000" stroke-width="4.8"/>
<text x="544.2" y="147.5" font-family='"Liberation Sans", sans-serif' font-size="28.8" text-anchor="start"  stroke="#000" stroke-width="0.3">Pieprzyk</text>
<line x1="178.3" y1="782.5" x2="237" y2="782.5" stroke="#aa0000" stroke-width="5.6" />
<text x="252.4" y="794.1" font-family='"Liberation Sans", sans-serif' font-size="28.8" text-anchor="start"  stroke="#000" stroke-width="0.3">HS</text>
<line x1="178.3" y1="837.8" x2="237" y2="837.8" stroke="#0000ff" stroke-width="5.6" />
<text x="252.4" y="849.7" font-family='"Liberation Sans", sans-serif' font-size="28.8" text-anchor="start"  stroke="#000" stroke-width="0.3">PHS</text>
<rect x="203.35" y="912.55" width="34.9" height="34.9" fill="none" stroke="#000000" stroke-width="4.4"/>
<text x="256.5" y="941.2" font-family='"Liberation Sans", sans-serif' font-size="28.8" text-anchor="start"  stroke="#000" stroke-width="0.3">Nicasio&#8722;Collazo</text>
<path d="M495.2 752.3L519.8 776.9M495.2 776.9L519.8 752.3" fill="none" stroke="#aa0000" stroke-width="4.6"/>
<text x="537.7" y="773.8" font-family='"Liberation Sans", sans-serif' font-size="28.8" text-anchor="start" textLength="289" lengthAdjust="spacingAndGlyphs"  stroke="#000" stroke-width="0.3">Sigurgeirsson <tspan font-style="italic">N</tspan>=4000</text>
<circle cx="507.9" cy="839" r="17.1" fill="none" stroke="#aa0000" stroke-width="5"/>
<text x="543.3" y="849.9" font-family='"Liberation Sans", sans-serif' font-size="28.8" text-anchor="start" textLength="289" lengthAdjust="spacingAndGlyphs"  stroke="#000" stroke-width="0.3">Sigurgeirsson <tspan font-style="italic">N</tspan>=2048</text>
<line x1="178.3" y1="1485.6" x2="237" y2="1485.6" stroke="#aa0000" stroke-width="5.6" />
<text x="252.4" y="1497" font-family='"Liberation Sans", sans-serif' font-size="28.8" text-anchor="start"  stroke="#000" stroke-width="0.3">HS</text>
<line x1="178.3" y1="1541.5" x2="237" y2="1541.5" stroke="#0000ff" stroke-width="5.6" />
<text x="252.4" y="1553" font-family='"Liberation Sans", sans-serif' font-size="28.8" text-anchor="start"  stroke="#000" stroke-width="0.3">PHS</text>
<circle cx="414.3" cy="1481.9" r="17.1" fill="none" stroke="#aa0000" stroke-width="5"/>
<text x="450.3" y="1493.4" font-family='"Liberation Sans", sans-serif' font-size="28.8" text-anchor="start"  stroke="#000" stroke-width="0.3">HS Eq. 1</text>
<circle cx="414.3" cy="1546.3" r="17.1" fill="none" stroke="#0000ff" stroke-width="5"/>
<text x="450.3" y="1556.6" font-family='"Liberation Sans", sans-serif' font-size="28.8" text-anchor="start"  stroke="#000" stroke-width="0.3">PHS Eq. 1</text>
<rect x="203.35" y="1616.25" width="34.9" height="34.9" fill="none" stroke="#000000" stroke-width="4.4"/>
<text x="256.4" y="1644.7" font-family='"Liberation Sans", sans-serif' font-size="28.8" text-anchor="start"  stroke="#000" stroke-width="0.3">Nicasio&#8722;Collazo</text>
<circle cx="227.3" cy="1704" r="17.1" fill="none" stroke="#000000" stroke-width="5"/>
<text x="262.3" y="1713.4" font-family='"Liberation Sans", sans-serif' font-size="28.8" text-anchor="start"  stroke="#000" stroke-width="0.3">Nicasio&#8722;Collazo, Eq. 1</text>
</svg></body></html>
